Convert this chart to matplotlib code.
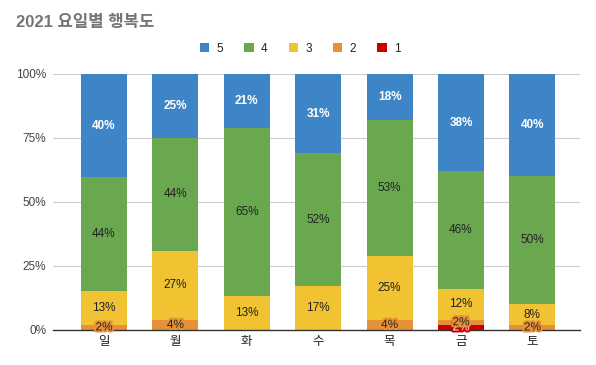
import matplotlib
matplotlib.use("Agg")
import matplotlib.pyplot as plt
import matplotlib.patheffects as pe
import numpy as np

plt.rcParams['font.family'] = ['Liberation Sans', 'Noto Sans CJK KR', 'DejaVu Sans']

days = ['일', '월', '화', '수', '목', '금', '토']
series_names = ['5', '4', '3', '2', '1']
s1 = [0, 0, 0, 0, 0, 2, 0]
s2 = [2, 4, 0, 0, 4, 2, 2]
s3 = [13, 27, 13, 17, 25, 12, 8]
s4 = [44, 44, 65, 52, 53, 46, 50]
s5 = [40, 25, 21, 31, 18, 38, 40]
colors = {'5': '#3d85c6', '4': '#6aa84f', '3': '#f1c232', '2': '#e69138', '1': '#cc0000'}

fig = plt.figure(figsize=(5.96, 3.65), dpi=100)
ax = fig.add_axes([53/596, 1-330/365, (580-53)/596, (330-74)/365])

data = {'1': np.array(s1, float), '2': np.array(s2, float), '3': np.array(s3, float),
        '4': np.array(s4, float), '5': np.array(s5, float)}
total = sum(data.values())
x = np.arange(len(days))
bottom = np.zeros(len(days))
width = 0.645
handles = {}
for name in ['1', '2', '3', '4', '5']:
    vals = data[name] / total
    h = ax.bar(x, vals, width, bottom=bottom, color=colors[name], zorder=2)
    handles[name] = h
    for i, v in enumerate(data[name]):
        if v <= 0:
            continue
        yc = bottom[i] + vals[i] / 2
        if name == '5':
            ax.text(x[i], yc, f'{int(v)}%', ha='center', va='center', fontsize=8.5,
                    color='white', fontweight='bold', zorder=4)
        elif name == '1':
            ax.text(x[i], yc, f'{int(v)}%', ha='center', va='center', fontsize=8.5,
                    color='white', zorder=4,
                    path_effects=[pe.withStroke(linewidth=3, foreground=colors[name])])
        else:
            kw = {}
            if vals[i] < 0.06:
                kw['path_effects'] = [pe.withStroke(linewidth=3, foreground=colors[name])]
            ax.text(x[i], yc, f'{int(v)}%', ha='center', va='center', fontsize=8.5,
                    color='#222222', zorder=4 if name != '2' else 5, **kw)
    bottom = bottom + vals

ax.set_xlim(-0.714, 6.667)
ax.set_ylim(0, 1)
ax.set_yticks([0, 0.25, 0.5, 0.75, 1.0])
ax.set_yticklabels(['0%', '25%', '50%', '75%', '100%'], color='#444444', fontsize=8.5)
ax.set_xticks(x)
ax.set_xticklabels(days, color='#222222', fontsize=9)
ax.tick_params(axis='both', length=0)
ax.tick_params(axis='y', pad=5)
ax.tick_params(axis='x', pad=4)
ax.yaxis.grid(True, color='#cccccc', linewidth=0.8, zorder=0)
ax.set_axisbelow(True)
for s in ['top', 'right', 'left']:
    ax.spines[s].set_visible(False)
ax.spines['bottom'].set_color('#333333')
ax.spines['bottom'].set_linewidth(1)
ax.spines['bottom'].set_zorder(3)

fig.text(16/596, 1-22/365, '2021 요일별 행복도', fontsize=12, fontweight='bold',
         color='#757575', ha='left', va='center')

leg = fig.legend([handles[n] for n in series_names], series_names, loc='center',
                 bbox_to_anchor=(300/596, 1-49/365), ncol=5, frameon=False,
                 fontsize=8.5, handlelength=0.8, handleheight=0.8, handletextpad=0.6,
                 columnspacing=1.8, labelcolor='#222222')

fig.savefig('out.png', dpi=100)
